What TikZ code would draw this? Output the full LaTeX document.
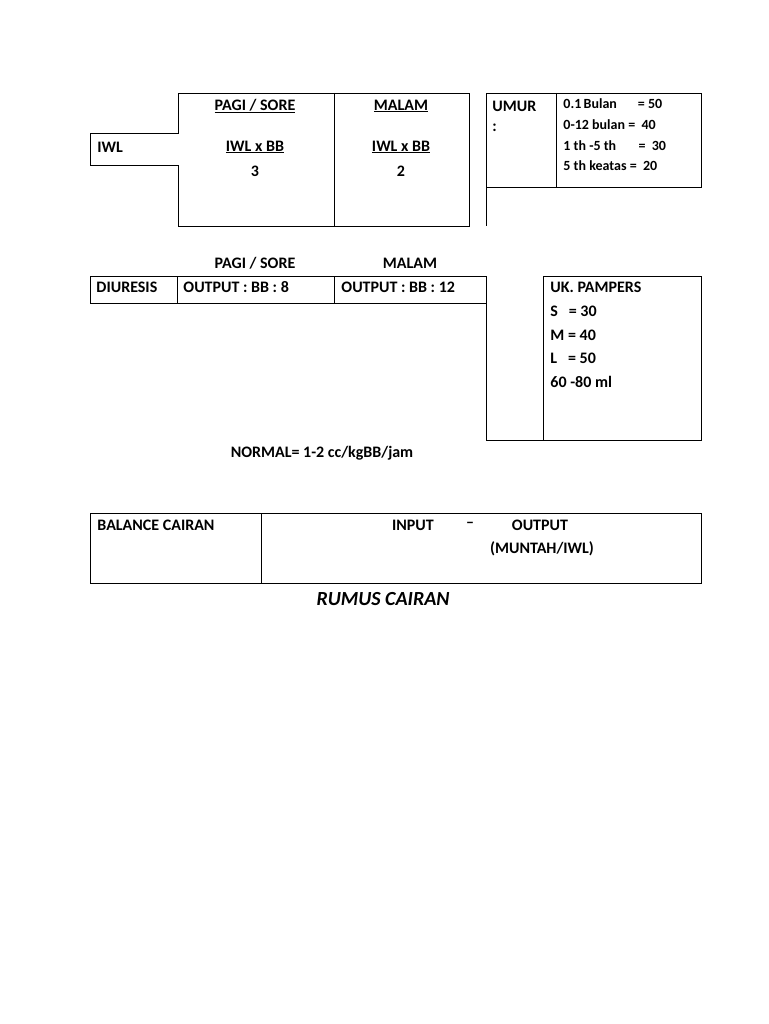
\documentclass[tikz,border=0pt]{standalone}
\usepackage{fontspec}
\setmainfont{Carlito}
\begin{document}
\begin{tikzpicture}[x=1pt,y=-1pt,line width=0.9pt,
  t/.style={font=\bfseries\fontsize{16}{18}\selectfont,inner sep=0pt},
  s/.style={font=\bfseries\fontsize{14}{16}\selectfont,inner sep=0pt,anchor=west}]
\useasboundingbox (0,0) rectangle (768,1024);
% IWL table
\draw (90,133) -- (178,133) -- (178,93) -- (469,93) -- (469,226) -- (178,226) -- (178,165) -- (90,165) -- cycle;
\draw (334,93) -- (334,226);
\node[t,anchor=west] (iwl) at (97,147) {IWL};
\node[t] (ps) at (255,106) {\underline{PAGI / SORE}};
\node[t] (ml) at (401,106) {\underline{MALAM}};
\node[t] (f1) at (255,147) {\underline{IWL x BB}};
\node[t] (n1) at (255,171) {3};
\node[t] (f2) at (401,147) {\underline{IWL x BB}};
\node[t] (n2) at (401,171) {2};
% UMUR
\draw (486,226) -- (486,93) -- (701,93) -- (701,187) -- (486,187);
\draw (556,93) -- (556,187);
\node[t,anchor=west] (um) at (492,106) {UMUR};
\node[t,anchor=west] (col) at (492,128) {:};
\node[s] (u1) at (563,104) {0.1\,Bulan\hspace{1.5em}= 50};
\node[s] (u2) at (563,125) {0-12 bulan =\ \ 40};
\node[s] (u3) at (563,146) {1 th -5 th\hspace{1.6em}=\ \ 30};
\node[s] (u4) at (563,166) {5 th keatas =\ \ 20};
% Diuresis
\node[t] (ps2) at (255,263) {PAGI / SORE};
\node[t] (ml2) at (410,263) {MALAM};
\draw (90,276) rectangle (486,303);
\draw (177,276) -- (177,303) (334,276) -- (334,303);
\node[t,anchor=west] (di) at (96,287) {DIURESIS};
\node[t,anchor=west] (o1) at (183,287) {OUTPUT : BB : 8};
\node[t,anchor=west] (o2) at (341,287) {OUTPUT : BB : 12};
\draw (486,303) -- (486,440) -- (701,440);
\draw (543,276) rectangle (701,440);
\node[t,anchor=west] (p0) at (550,287) {UK. PAMPERS};
\node[t,anchor=west] (p1) at (550,311) {S\ \ \ = 30};
\node[t,anchor=west] (p2) at (550,335) {M = 40};
\node[t,anchor=west] (p3) at (550,358) {L\ \ \ = 50};
\node[t,anchor=west] (p4) at (550,382) {60 -80 ml};
\node[t] (nm) at (322,453) {NORMAL= 1-2 cc/kgBB/jam};
% Balance
\draw (90,513) rectangle (701,583);
\draw (261,513) -- (261,583);
\node[t,anchor=west] (bc) at (97,525) {BALANCE CAIRAN};
\node[t] (in) at (413,525) {INPUT};
\node[t] (da) at (470,525) {–};
\node[t] (ou) at (540,525) {OUTPUT};
\node[t] (mu) at (542,549) {(MUNTAH/IWL)};
\node[inner sep=0pt,font=\bfseries\itshape\fontsize{20}{22}\selectfont] (rc) at (383,599) {RUMUS CAIRAN};
\end{tikzpicture}
\end{document}
